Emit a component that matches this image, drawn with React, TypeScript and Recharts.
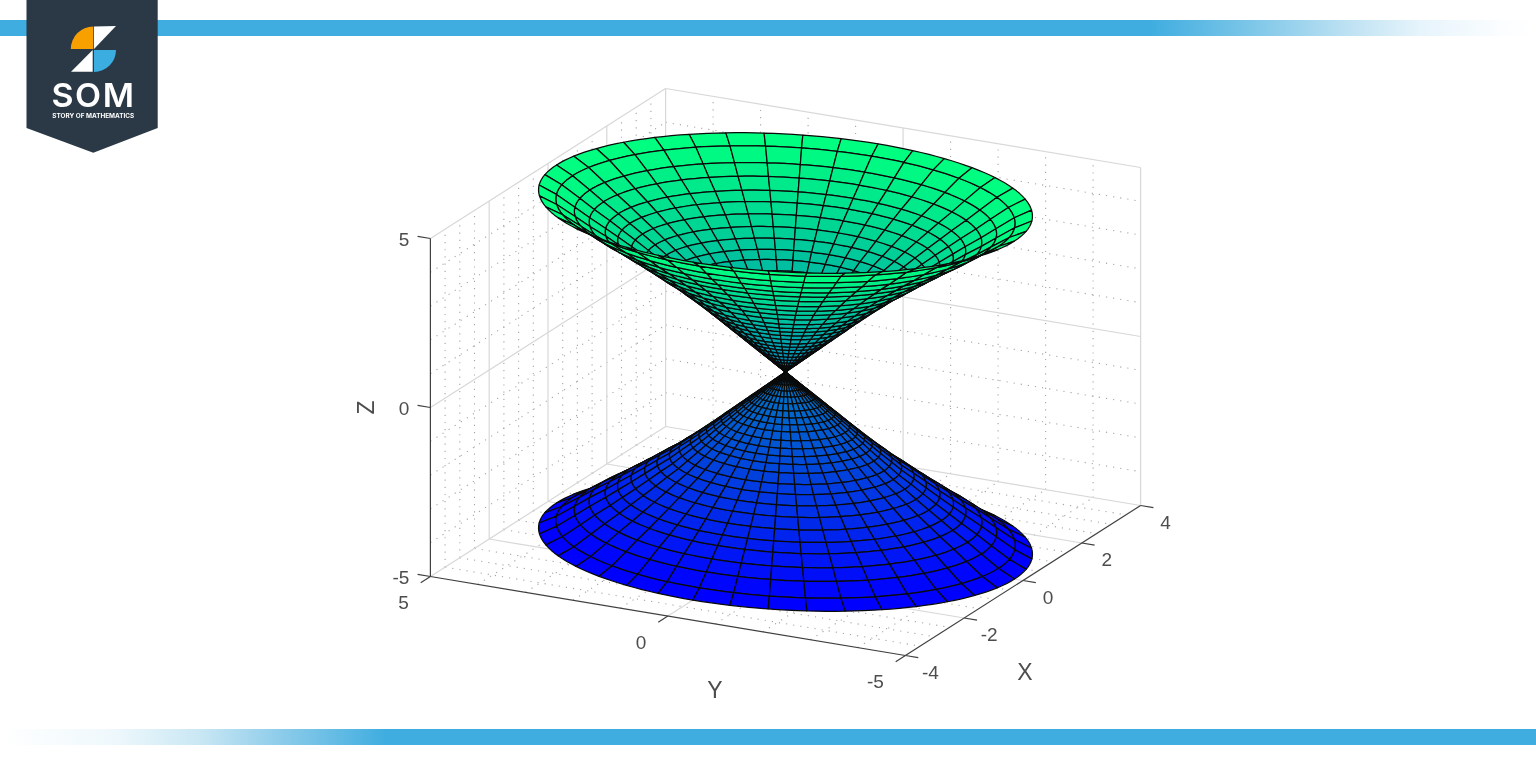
import React from "react";
import { ScatterChart, Scatter, XAxis, YAxis } from "recharts";

const WIDTH = 1536;
const HEIGHT = 768;

// surface rings, apex to rim
const ringRadius = [0, 0.027, 0.05, 0.072, 0.095, 0.12, 0.148, 0.174, 0.2, 0.227, 0.26, 0.29, 0.32, 0.35, 0.385, 0.43, 0.47, 0.52, 0.57, 0.625, 0.68, 0.73, 0.795, 0.855, 0.93, 1];
const ringHeight = [0, 0.155, 0.285, 0.415, 0.545, 0.69, 0.85, 1, 1.15, 1.305, 1.495, 1.67, 1.84, 2.01, 2.2, 2.435, 2.65, 2.88, 3.12, 3.38, 3.63, 3.86, 4.14, 4.42, 4.76, 5];
const meridians = [0, 9, 18, 27, 36, 45, 54, 63, 72, 81, 90, 99, 108, 117, 126, 135, 144, 153, 162, 171, 180, 189, 198, 207, 216, 225, 234, 243, 252, 261, 270, 279, 288, 297, 306, 315, 324, 333, 342, 351];
// rings look round in the picture, so each cell edge gets a few extra points
const edgeSteps = [0, 0.25, 0.5, 0.75, 1];
const rimX = 3.15;
const rimY = 4.82;

const xTicks = [-4, -2, 0, 2, 4];
const yTicks = [5, 0, -5];
const zTicks = [-5, 0, 5];
const xMajor = [-2, 0, 2];
const xMinor = [-3.5, -3, -2.5, -1.5, -1, -0.5, 0.5, 1, 1.5, 2.5, 3, 3.5];
const yMinor = [-4, -3, -2, -1, 1, 2, 3, 4];
const zMinor = [-4, -3, -2, -1, 1, 2, 3, 4];

// view of the 3D box on the page
const project = (x: number, y: number, z: number) => ({
  px: 785.5 + 29.4 * x - 47.5 * y,
  py: 372 - 18.75 * x - 7.9 * y - 33.8 * z,
});
const depth = (x: number, y: number, z: number) => -47.5 * x - 29.4 * y + 33.2 * z;

type P3 = [number, number, number];
const seg = (a: P3, b: P3) => [project(...a), project(...b)];

const winter = (z: number) => {
  const t = (z + 5) / 10;
  return `rgb(0,${Math.round(255 * t)},${Math.round(255 * (1 - t / 2))})`;
};

// cells of both nappes, far ones first
const buildSurface = () => {
  const cells: { pts: P3[]; fill: string; d: number }[] = [];
  [1, -1].forEach((sign) => {
    for (let i = 0; i < ringRadius.length - 1; i++) {
      meridians.forEach((deg) => {
        const at = (ring: number, step: number): P3 => {
          const t = ((deg + 9 * step) * Math.PI) / 180;
          return [
            rimX * ringRadius[ring] * Math.cos(t),
            rimY * ringRadius[ring] * Math.sin(t),
            sign * ringHeight[ring],
          ];
        };
        const pts = [
          ...edgeSteps.map((s) => at(i, s)),
          ...[...edgeSteps].reverse().map((s) => at(i + 1, s)),
        ];
        const c = [at(i, 0.5), at(i + 1, 0.5)];
        const d = depth((c[0][0] + c[1][0]) / 2, (c[0][1] + c[1][1]) / 2, (c[0][2] + c[1][2]) / 2);
        cells.push({ pts, fill: winter(sign * ringHeight[i + 1]), d });
      });
    }
  });
  return cells.sort((a, b) => a.d - b.d);
};
const surfaceCells = buildSurface();
const surfaceData = surfaceCells.flatMap((q) => q.pts.map((p) => project(...p)));
const cellSize = edgeSteps.length * 2;

const solidGrid = [
  // box edges
  seg([-4, 5, 5], [4, 5, 5]), seg([4, 5, 5], [4, -5, 5]), seg([4, 5, -5], [4, 5, 5]), seg([4, -5, -5], [4, -5, 5]),
  seg([-4, 5, -5], [4, 5, -5]), seg([4, 5, -5], [4, -5, -5]),
  // major lines
  seg([-4, 5, 0], [4, 5, 0]), seg([4, 5, 0], [4, -5, 0]),
  seg([4, 0, -5], [4, 0, 5]), seg([-4, 0, -5], [4, 0, -5]),
  ...xMajor.map((x) => seg([x, 5, -5], [x, 5, 5])),
  ...xMajor.map((x) => seg([x, 5, -5], [x, -5, -5])),
].flat();

const dottedGrid = [
  ...xMinor.map((x) => seg([x, 5, -5], [x, 5, 5])),
  ...xMinor.map((x) => seg([x, 5, -5], [x, -5, -5])),
  ...yMinor.map((y) => seg([4, y, -5], [4, y, 5])),
  ...yMinor.map((y) => seg([-4, y, -5], [4, y, -5])),
  ...zMinor.map((z) => seg([-4, 5, z], [4, 5, z])),
  ...zMinor.map((z) => seg([4, 5, z], [4, -5, z])),
].flat();

const axisLines = [
  seg([-4, 5, -5], [-4, 5, 5]), seg([-4, 5, -5], [-4, -5, -5]), seg([-4, -5, -5], [4, -5, -5]),
  ...zTicks.map((z) => seg([-4, 5, z], [-4, 5.27, z])),
  ...yTicks.map((y) => seg([-4, y, -5], [-4.33, y, -5])),
  ...xTicks.map((x) => seg([x, -5, -5], [x, -5.27, -5])),
].flat();

const zLabels = zTicks.map((z) => ({ ...project(-4, 5, z), label: String(z) }));
const yLabels = yTicks.map((y) => ({ ...project(-4, y, -5), label: String(y) }));
const xLabels = xTicks.map((x) => ({ ...project(x, -5, -5), label: String(x) }));
const xTitle = [{ ...project(0, -5, -5), label: "X" }];
const yTitle = [{ ...project(-4, 0, -5), label: "Y" }];
const zTitle = [{ ...project(-4, 5, 0), label: "Z" }];

const NoDot = () => null;

const Segments = (stroke: string, width: number, dash?: string) => (props: any) => {
  const pts = props.points;
  const lines = [];
  for (let i = 0; i + 1 < pts.length; i += 2) {
    lines.push(
      <line key={i} x1={pts[i].x} y1={pts[i].y} x2={pts[i + 1].x} y2={pts[i + 1].y} stroke={stroke} strokeWidth={width} strokeDasharray={dash} />
    );
  }
  return <g>{lines}</g>;
};

const SurfaceMesh = (props: any) => {
  const pts = props.points;
  return (
    <g>
      {surfaceCells.map((q, i) => {
        const c = pts.slice(i * cellSize, (i + 1) * cellSize);
        return (
          <polygon
            key={i}
            points={c.map((p: any) => `${p.x},${p.y}`).join(" ")}
            fill={q.fill}
            stroke="#0a0a0a"
            strokeWidth={1.25}
            strokeLinejoin="round"
          />
        );
      })}
    </g>
  );
};

const TEXT = "#4d4d4d";
const FONT = "'Liberation Sans', Arial, sans-serif";

const Label = (dx: number, dy: number, anchor: string, size: number, rotate = 0) => (props: any) => {
  const x = props.cx + dx;
  const y = props.cy + dy;
  return (
    <text
      x={x}
      y={y}
      textAnchor={anchor}
      dominantBaseline="central"
      fontFamily={FONT}
      fontSize={size}
      fill={TEXT}
      transform={rotate ? `rotate(${rotate} ${x} ${y})` : undefined}
    >
      {props.payload.label}
    </text>
  );
};

const Logo = () => (
  <svg width={200} height={160} style={{ position: "absolute", left: 0, top: 0, filter: "blur(0.3px)" }}>
    <polygon points="26.5,0 157.7,0 157.7,128 93.3,152.7 26.5,128" fill="#2a3945" />
    <path d="M93.3 26.5 A22.5 22.5 0 0 0 70.8 49 L93.3 49 Z" fill="#f8a000" />
    <polygon points="94,26.5 116,26 94,49" fill="#fff" />
    <polygon points="71,71.7 92.7,50 92.7,71.7" fill="#fff" />
    <path d="M94 50 L116 50 A22 22 0 0 1 94 72 Z" fill="#3bade0" />
    <text x={51.5} y={107} fontFamily="Inter, sans-serif" fontWeight={600} fontSize={33} letterSpacing={1.5} fill="#fff" textLength={84} lengthAdjust="spacingAndGlyphs">
      SOM
    </text>
    <text x={52.3} y={118} fontFamily="Inter, sans-serif" fontWeight={700} fontSize={6.4} fill="#fff" textLength={82} lengthAdjust="spacing">
      STORY OF MATHEMATICS
    </text>
  </svg>
);

const topBand =
  "linear-gradient(90deg, #3fade0 0px, #3fade0 1150px, #7cc6e8 1250px, #bfe2f3 1350px, #e6f4fb 1420px, #fbfdff 1500px, #ffffff 1536px)";
const bottomBand =
  "linear-gradient(90deg, #ffffff 0px, #eef8fc 115px, #c9e7f4 200px, #86c9e9 290px, #3fade0 386px, #3fade0 1536px)";

const App = () => (
  <div style={{ position: "absolute", left: 0, top: 0, width: WIDTH, height: HEIGHT, overflow: "hidden", background: "#fff" }}>
    <div style={{ position: "absolute", left: 0, top: 20, width: WIDTH, height: 16, background: topBand }} />
    <div style={{ position: "absolute", left: 0, top: 729, width: WIDTH, height: 16, background: bottomBand }} />
    <div style={{ position: "absolute", left: 0, top: 0, filter: "blur(0.4px)" }}>
      <ScatterChart width={WIDTH} height={HEIGHT} margin={{ top: 0, right: 0, bottom: 0, left: 0 }}>
        <XAxis type="number" dataKey="px" domain={[0, WIDTH]} hide />
        <YAxis type="number" dataKey="py" domain={[0, HEIGHT]} reversed hide />
        <Scatter data={dottedGrid} shape={NoDot} line={Segments("#a6a6a6", 1.1, "1.2 6")} isAnimationActive={false} />
        <Scatter data={solidGrid} shape={NoDot} line={Segments("#d8d8d8", 1.2)} isAnimationActive={false} />
        <Scatter data={axisLines} shape={NoDot} line={Segments("#404040", 1.2)} isAnimationActive={false} />
        <Scatter data={zLabels} shape={Label(-21, 1, "end", 19)} isAnimationActive={false} />
        <Scatter data={yLabels} shape={Label(-21.5, 26, "end", 19)} isAnimationActive={false} />
        <Scatter data={xLabels} shape={Label(25, 16.5, "middle", 19)} isAnimationActive={false} />
        <Scatter data={xTitle} shape={Label(2, 91, "middle", 23)} isAnimationActive={false} />
        <Scatter data={yTitle} shape={Label(47, 74, "middle", 23)} isAnimationActive={false} />
        <Scatter data={zTitle} shape={Label(-64, 0, "middle", 23, -90)} isAnimationActive={false} />
        <Scatter data={surfaceData} shape={NoDot} line={SurfaceMesh} isAnimationActive={false} />
      </ScatterChart>
    </div>
    <Logo />
  </div>
);

export default App;
